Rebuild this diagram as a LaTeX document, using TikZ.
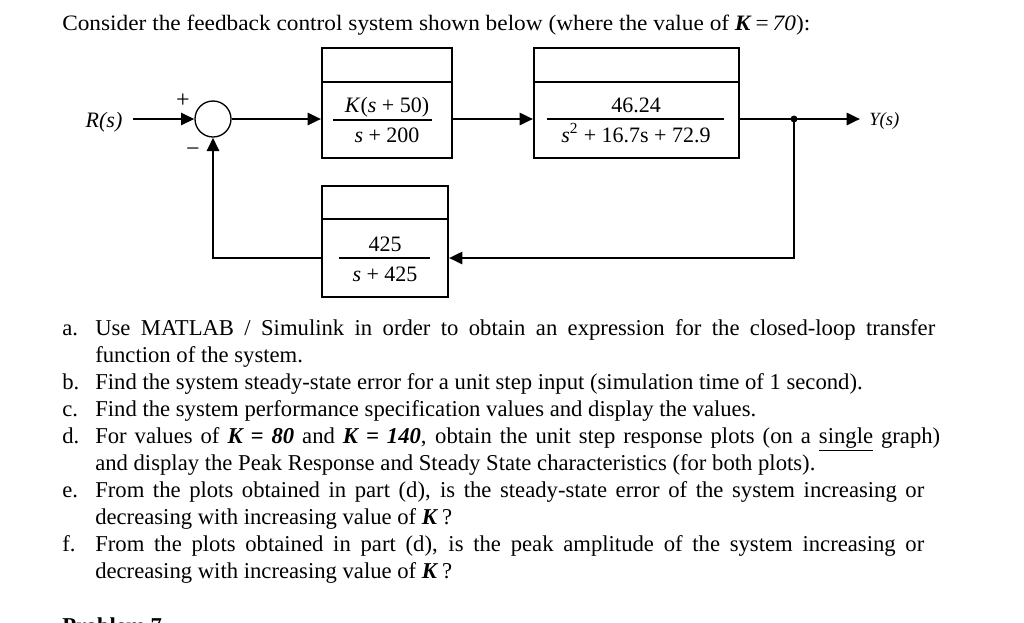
\documentclass[tikz,border=0pt]{standalone}
\usepackage{fontspec}
\setmainfont{Liberation Serif}
\usetikzlibrary{arrows.meta}
\begin{document}
\begin{tikzpicture}[x=0.75pt,y=-0.75pt,
  sig/.style={line width=2pt,-{Triangle[length=10pt,width=9pt]}},
  wire/.style={line width=2pt},
  blk/.style={draw,line width=1.5pt,inner sep=0pt},
  divl/.style={line width=1.5pt},
  bar/.style={line width=0.8pt},
  dtxt/.style={inner sep=0pt,font=\fontsize{16.5}{18}\selectfont},
  sgn/.style={inner sep=0pt,font=\fontsize{18}{20}\selectfont},
  lab/.style={inner sep=0pt,anchor=base west,font=\fontsize{17}{20}\selectfont},
  body/.style={inner sep=0pt,anchor=base west,font=\fontsize{17}{20}\selectfont}]
\useasboundingbox (0,0) rectangle (1024,622);
\fill[white] (0,0) rectangle (1024,622);

% title
\node[body,font=\fontsize{16.5}{20}\selectfont] (title) at (62,30) {\resizebox{561pt}{\height}{Consider the feedback control system shown below (where the value of \textbf{\textit{K}}\,=\,\textit{70}):}};

% block diagram
\node[inner sep=0pt,font=\fontsize{16.5}{18}\selectfont\itshape] (rlab) at (104,122) {R(s)};
\coordinate (rin) at (133,119);
\node[draw,circle,line width=1pt,minimum size=27pt,inner sep=0pt] (sum) at (213,119) {};
\node[sgn] (plus) at (183,101) {+};
\node[sgn] (minus) at (193,152) {\textminus};

\node[blk,minimum width=97.5pt,minimum height=82.5pt] (box1) at (387,103) {};
\draw[divl] ([yshift=-26.25pt]box1.north west) -- ([yshift=-26.25pt]box1.north east);
\node[dtxt] (n1) at (387,107) {\textit{K}(\textit{s} + 50)};
\node[dtxt] (d1) at (387,135) {\textit{s} + 200};
\draw[bar] (333,120) -- (432,120);

\node[blk,minimum width=153.75pt,minimum height=82.5pt] (box2) at (636.5,103) {};
\draw[divl] ([yshift=-26.25pt]box2.north west) -- ([yshift=-26.25pt]box2.north east);
\node[dtxt] (n2) at (636,105) {46.24};
\node[dtxt] (d2) at (636,133) {\textit{s}\textsuperscript{2} + 16.7s + 72.9};
\draw[bar] (547,119) -- (724,119);

\node[blk,minimum width=94.5pt,minimum height=83.25pt] (box3) at (385,241.5) {};
\draw[divl] ([yshift=-25.5pt]box3.north west) -- ([yshift=-25.5pt]box3.north east);
\node[dtxt] (n3) at (385,244) {425};
\node[dtxt] (d3) at (385,274) {\textit{s} + 425};
\coordinate (b3c) at (385,258);
\draw[bar] (339,258) -- (430,258);

\coordinate (tap) at (794,119);
\coordinate (yout) at (860,119);
\node[inner sep=0pt,anchor=west,font=\fontsize{14}{16}\selectfont\itshape] (ylab) at (869,121) {Y(s)};

\draw[sig] (rin) -- (sum.west);
\draw[sig] (sum.east) -- (sum.east -| box1.west);
\draw[sig] (box1.east |- sum) -- (box2.west |- sum);
\draw[wire] (box2.east |- sum) -- (tap);
\draw[sig] (tap) -- (yout);
\fill (tap) circle (2.6pt);
\draw[sig] (tap) |- (box3.east |- b3c);
\draw[sig] (box3.west |- b3c) -| (sum.south);

% questions
\node[lab] (la) at (62,335) {a.};
\node[body] (ta1) at (95,335) {\makebox[630pt][s]{Use MATLAB / Simulink in order to obtain an expression for the closed-loop transfer}};
\node[body] (ta2) at (95,362) {function of the system.};
\node[lab] (lb) at (62,389) {b.};
\node[body] (tb1) at (95,389) {Find the system steady-state error for a unit step input (simulation time of 1 second).};
\node[lab] (lc) at (62,416) {c.};
\node[body] (tc1) at (95,416) {Find the system performance specification values and display the values.};
\node[lab] (ld) at (62,443) {d.};
\node[body] (td1) at (95,443) {\makebox[633.75pt][s]{For values of \textbf{\textit{K = 80}} and \textbf{\textit{K = 140}}, obtain the unit step response plots (on a \underline{single} graph)}};
\node[body] (td2) at (95,470) {and display the Peak Response and Steady State characteristics (for both plots).};
\node[lab] (le) at (62,497) {e.};
\node[body] (te1) at (95,497) {\makebox[621.75pt][s]{From the plots obtained in part (d), is the steady-state error of the system increasing or}};
\node[body] (te2) at (95,524) {decreasing with increasing value of \textbf{\textit{K}}\,?};
\node[lab] (lf) at (62,551) {f.};
\node[body] (tf1) at (95,551) {\makebox[621.75pt][s]{From the plots obtained in part (d), is the peak amplitude of the system increasing or}};
\node[body] (tf2) at (95,578) {decreasing with increasing value of \textbf{\textit{K}}\,?};

\begin{scope}
\clip (0,0) rectangle (1024,622);
\node[body,font=\fontsize{17}{20}\selectfont\bfseries] (prob) at (62,633) {Problem 7};
\end{scope}
\end{tikzpicture}
\end{document}
